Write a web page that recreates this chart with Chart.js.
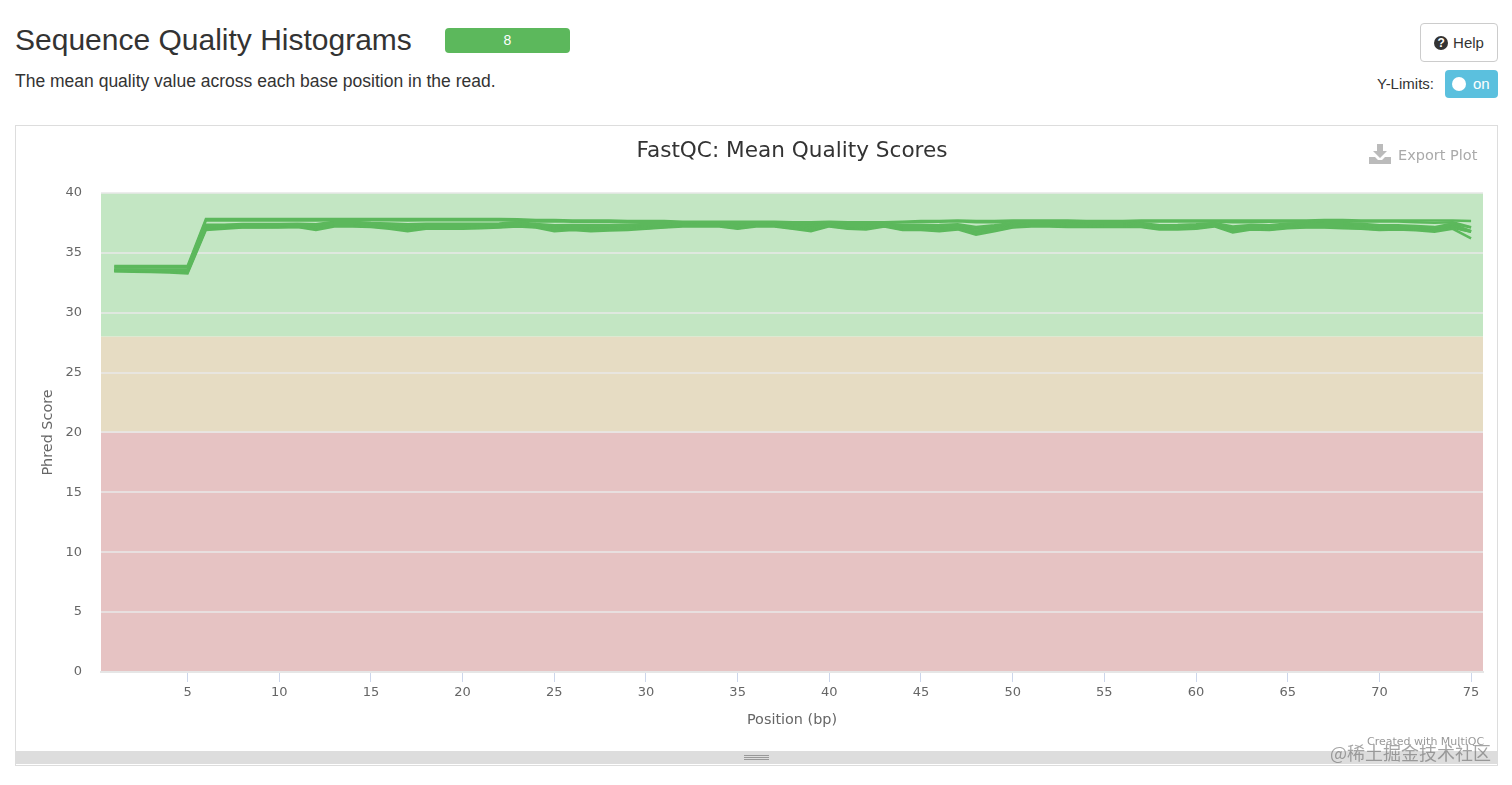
<!DOCTYPE html>
<html><head><meta charset="utf-8">
<script src="https://cdn.jsdelivr.net/npm/chart.js@4/dist/chart.umd.min.js"></script>
<style>
html,body{margin:0;padding:0;background:#fff;width:1512px;height:785px;overflow:hidden;font-family:"Liberation Sans",Arial,sans-serif;color:#333}
.abs{position:absolute;white-space:nowrap}
#h{left:15px;top:22px;font-size:30px;line-height:35px}
#badge{left:445px;top:28px;width:125px;height:25px;background:#5cb85c;border-radius:4px;color:#fff;font-size:14px;line-height:25px;text-align:center}
#sub{left:15px;top:71px;font-size:17.5px;line-height:20px}
#help{left:1420px;top:23px;width:76px;height:37px;border:1px solid #ccc;border-radius:4px;font-size:15px;line-height:37px;text-align:center}
#help i{display:inline-block;width:14px;height:14px;border-radius:50%;background:#333;color:#fff;font:bold 12px/14px "Liberation Sans";text-align:center;font-style:normal;margin-right:5px;vertical-align:1px}
#yl{left:1377px;top:76px;font-size:15px;line-height:16px}
#tog{left:1445px;top:70px;width:53px;height:28px;background:#5bc0de;border-radius:4px}
#knob{left:1452px;top:77px;width:14px;height:14px;border-radius:50%;background:#fff}
#on{left:1473px;top:76px;font-size:15px;line-height:16px;color:#fff}
#panel{left:15px;top:125px;width:1481px;height:639px;border:1px solid #ddd}
#c{position:absolute;left:16px;top:126px}
#bar{left:16px;top:751px;width:1481px;height:13px;background:#ddd}
.grip{left:744px;width:25px;height:1px;background:#999}
#exp{left:1398px;top:146px;font:14.5px/18px "DejaVu Sans";color:#aaa}
#mq{left:1367px;top:736px;font:11px/12px "DejaVu Sans";color:#999}
#wm{left:1330px;top:741px;font:18px/22px "Noto Sans CJK SC";color:rgba(110,110,110,.62)}
</style></head><body>
<div class="abs" id="h">Sequence Quality Histograms</div>
<div class="abs" id="badge">8</div>
<div class="abs" id="sub">The mean quality value across each base position in the read.</div>
<div class="abs" id="help"><i>?</i>Help</div>
<div class="abs" id="yl">Y-Limits:</div>
<div class="abs" id="tog"></div><div class="abs" id="knob"></div><div class="abs" id="on">on</div>
<div class="abs" id="panel"></div>
<canvas id="c" width="1480" height="625" style="width:1480px;height:625px"></canvas>
<svg class="abs" style="left:1369px;top:144px" width="22" height="20" viewBox="0 0 22 20"><path fill="#bbb" d="M8 0h6v7h4l-7 7-7-7h4zM0 13h6l3 3h4l3-3h6v7H0z"/></svg>
<div class="abs" id="exp">Export Plot</div>
<div class="abs" id="bar"></div>
<div class="abs grip" style="top:755px"></div><div class="abs grip" style="top:757px"></div><div class="abs grip" style="top:759px"></div>
<div class="abs" id="mq">Created with MultiQC</div>
<div class="abs" id="wm">@稀土掘金技术社区</div>
<script>
const positions=[1,2,3,4,5,6,7,8,9,10,11,12,13,14,15,16,17,18,19,20,21,22,23,24,25,26,27,28,29,30,31,32,33,34,35,36,37,38,39,40,41,42,43,44,45,46,47,48,49,50,51,52,53,54,55,56,57,58,59,60,61,62,63,64,65,66,67,68,69,70,71,72,73,74,75];
const s1=[33.9,33.9,33.9,33.9,33.9,37.82,37.82,37.82,37.82,37.82,37.82,37.82,37.82,37.82,37.82,
37.82,37.82,37.82,37.82,37.82,37.82,37.82,37.8,37.75,37.75,37.7,37.7,37.7,37.65,37.65,
37.65,37.6,37.6,37.6,37.6,37.6,37.6,37.55,37.55,37.6,37.55,37.55,37.55,37.6,37.65,
37.65,37.7,37.65,37.65,37.7,37.7,37.7,37.7,37.65,37.65,37.65,37.7,37.7,37.7,37.7,
37.7,37.7,37.7,37.7,37.7,37.7,37.75,37.75,37.7,37.7,37.7,37.7,37.7,37.7,37.65];
const s2=[33.78,33.78,33.78,33.78,33.78,37.7,37.7,37.7,37.7,37.7,37.7,37.7,37.72,37.72,37.72,
37.72,37.7,37.72,37.72,37.72,37.72,37.72,37.68,37.62,37.62,37.58,37.58,37.58,37.55,37.55,
37.55,37.5,37.55,37.55,37.5,37.55,37.5,37.5,37.45,37.55,37.45,37.45,37.5,37.52,37.55,
37.58,37.62,37.55,37.55,37.6,37.6,37.6,37.6,37.55,37.55,37.55,37.6,37.62,37.62,37.62,
37.6,37.55,37.55,37.58,37.6,37.6,37.65,37.65,37.6,37.6,37.6,37.55,37.5,37.55,37.15];
const s3=[33.6,33.6,33.6,33.6,33.6,37.35,37.35,37.4,37.4,37.4,37.42,37.38,37.6,37.6,37.5,
37.45,37.38,37.42,37.42,37.42,37.42,37.45,37.55,37.4,37.3,37.32,37.32,37.32,37.35,37.4,
37.45,37.5,37.5,37.5,37.45,37.5,37.5,37.4,37.3,37.5,37.3,37.3,37.45,37.3,37.3,
37.32,37.38,37.15,37.3,37.5,37.55,37.55,37.5,37.5,37.45,37.45,37.5,37.3,37.32,37.38,
37.5,37.2,37.32,37.3,37.45,37.5,37.5,37.5,37.42,37.3,37.3,37.25,37.15,37.45,37.1];
const s4=[33.58,33.58,33.55,33.55,33.52,37.25,37.3,37.32,37.32,37.32,37.35,37.25,37.5,37.5,37.42,
37.32,37.25,37.32,37.32,37.32,37.35,37.35,37.45,37.3,37.2,37.25,37.2,37.22,37.25,37.3,
37.35,37.42,37.42,37.42,37.3,37.42,37.42,37.28,37.15,37.42,37.25,37.2,37.38,37.2,37.2,
37.2,37.28,37.0,37.2,37.42,37.45,37.45,37.4,37.4,37.38,37.38,37.42,37.22,37.22,37.3,
37.45,37.1,37.25,37.2,37.35,37.4,37.4,37.4,37.32,37.2,37.22,37.18,37.05,37.38,36.8];
const s5=[33.55,33.55,33.52,33.52,33.48,37.18,37.22,37.25,37.25,37.25,37.3,37.15,37.42,37.42,37.35,
37.25,37.12,37.25,37.25,37.25,37.28,37.28,37.38,37.25,37.1,37.18,37.1,37.15,37.18,37.22,
37.28,37.35,37.35,37.35,37.2,37.35,37.35,37.2,37.05,37.35,37.2,37.15,37.3,37.12,37.12,
37.08,37.18,36.85,37.1,37.35,37.38,37.38,37.32,37.32,37.3,37.3,37.35,37.12,37.15,37.22,
37.38,37.0,37.18,37.12,37.25,37.3,37.3,37.3,37.25,37.12,37.15,37.1,36.98,37.25,36.8];
const s6=[33.52,33.5,33.5,33.48,33.42,37.08,37.15,37.18,37.18,37.2,37.22,37.08,37.35,37.35,37.28,
37.15,37.02,37.15,37.15,37.15,37.18,37.2,37.3,37.18,37.0,37.08,37.0,37.05,37.08,37.15,
37.2,37.3,37.3,37.3,37.12,37.3,37.3,37.12,36.95,37.3,37.12,37.08,37.28,37.02,37.02,
37.0,37.08,36.72,37.0,37.25,37.3,37.3,37.25,37.25,37.22,37.22,37.25,37.05,37.05,37.12,
37.3,36.88,37.08,37.02,37.18,37.2,37.2,37.18,37.12,37.02,37.08,37.02,36.92,37.15,36.75];
const s7=[33.48,33.48,33.45,33.42,33.36,37.0,37.08,37.12,37.12,37.14,37.18,37.0,37.28,37.28,37.2,
37.08,36.9,37.08,37.08,37.08,37.12,37.14,37.25,37.14,36.9,37.0,36.9,36.95,37.0,37.05,
37.14,37.25,37.25,37.25,37.05,37.25,37.25,37.05,36.88,37.25,37.05,37.0,37.25,36.95,36.95,
36.88,37.0,36.6,36.88,37.15,37.25,37.25,37.2,37.2,37.18,37.18,37.2,37.0,37.0,37.05,
37.25,36.78,37.0,36.95,37.1,37.14,37.14,37.1,37.05,36.95,37.0,36.95,36.85,37.08,36.75];
const s8=[33.45,33.42,33.4,33.36,33.28,36.9,37.0,37.1,37.1,37.1,37.15,36.9,37.2,37.2,37.15,
37.0,36.8,37.0,37.0,37.0,37.05,37.1,37.2,37.1,36.8,36.9,36.8,36.85,36.9,37.0,
37.1,37.2,37.2,37.2,37.0,37.2,37.2,37.0,36.8,37.2,37.0,36.95,37.2,36.9,36.9,
36.8,36.95,36.5,36.8,37.1,37.2,37.2,37.15,37.15,37.15,37.15,37.15,36.95,36.95,37.0,
37.2,36.7,36.95,36.9,37.05,37.1,37.1,37.05,37.0,36.9,36.95,36.88,36.75,37.0,36.2];
const sampleSeries=[s1,s2,s3,s4,s5,s6,s7,s8];
const bandFrom=[28,20,0];
const bandTo=[40,28,20];
const bandColors=['#c3e6c3','#e6dcc3','#e6c3c3'];
const chartTitle='FastQC: Mean Quality Scores';
const xTitle='Position (bp)';
const yTitle='Phred Score';
const tickFont={family:'"DejaVu Sans"',size:13};
const bands={id:'bands',beforeDraw(ch){
  const {ctx,chartArea:a,scales:{y}}=ch;
  bandFrom.forEach((f,i)=>{const t=y.getPixelForValue(bandTo[i]),b=y.getPixelForValue(f);
    ctx.fillStyle=bandColors[i];ctx.fillRect(a.left,t,a.right-a.left,b-t);});
}};
new Chart(document.getElementById('c'),{type:'line',
 data:{labels:positions,datasets:sampleSeries.map((s,i)=>({label:'Sample '+(i+1),
   data:s.map((v,j)=>({x:positions[j],y:v})),borderColor:'#5cb85c',borderWidth:2.4,pointRadius:0,tension:0,fill:false}))},
 plugins:[bands],
 options:{responsive:false,animation:false,
  layout:{padding:{left:0,right:13,top:0,bottom:0}},
  plugins:{legend:{display:false},tooltip:{enabled:false},
    title:{display:true,fullSize:false,text:chartTitle,color:'#333',font:{family:'"DejaVu Sans"',size:21.6,weight:'normal'},padding:{top:12,bottom:29}}},
  scales:{
   x:{type:'linear',min:0.28,max:75.65,
     ticks:{stepSize:5,includeBounds:false,color:'#666',font:tickFont,maxRotation:0,autoSkip:false,padding:3},
     grid:{display:true,drawOnChartArea:false,drawTicks:true,tickLength:10,tickColor:'#ccd6eb'},border:{color:'#e6e6e6',width:2},
     title:{display:true,text:xTitle,color:'#666',font:{family:'"DejaVu Sans"',size:14.4},padding:{top:4,bottom:22}},
     afterFit(s){s.height=79;}},
   y:{min:0,max:40,
     ticks:{stepSize:5,color:'#666',font:tickFont,padding:19},
     grid:{color:'rgba(232,232,232,.75)',lineWidth:2,drawTicks:false},border:{display:false},
     title:{display:true,text:yTitle,color:'#666',font:{family:'"DejaVu Sans"',size:14.4},padding:{top:24,bottom:4}},
     afterFit(s){s.width=85;}}
  }}});
</script>
</body></html>
